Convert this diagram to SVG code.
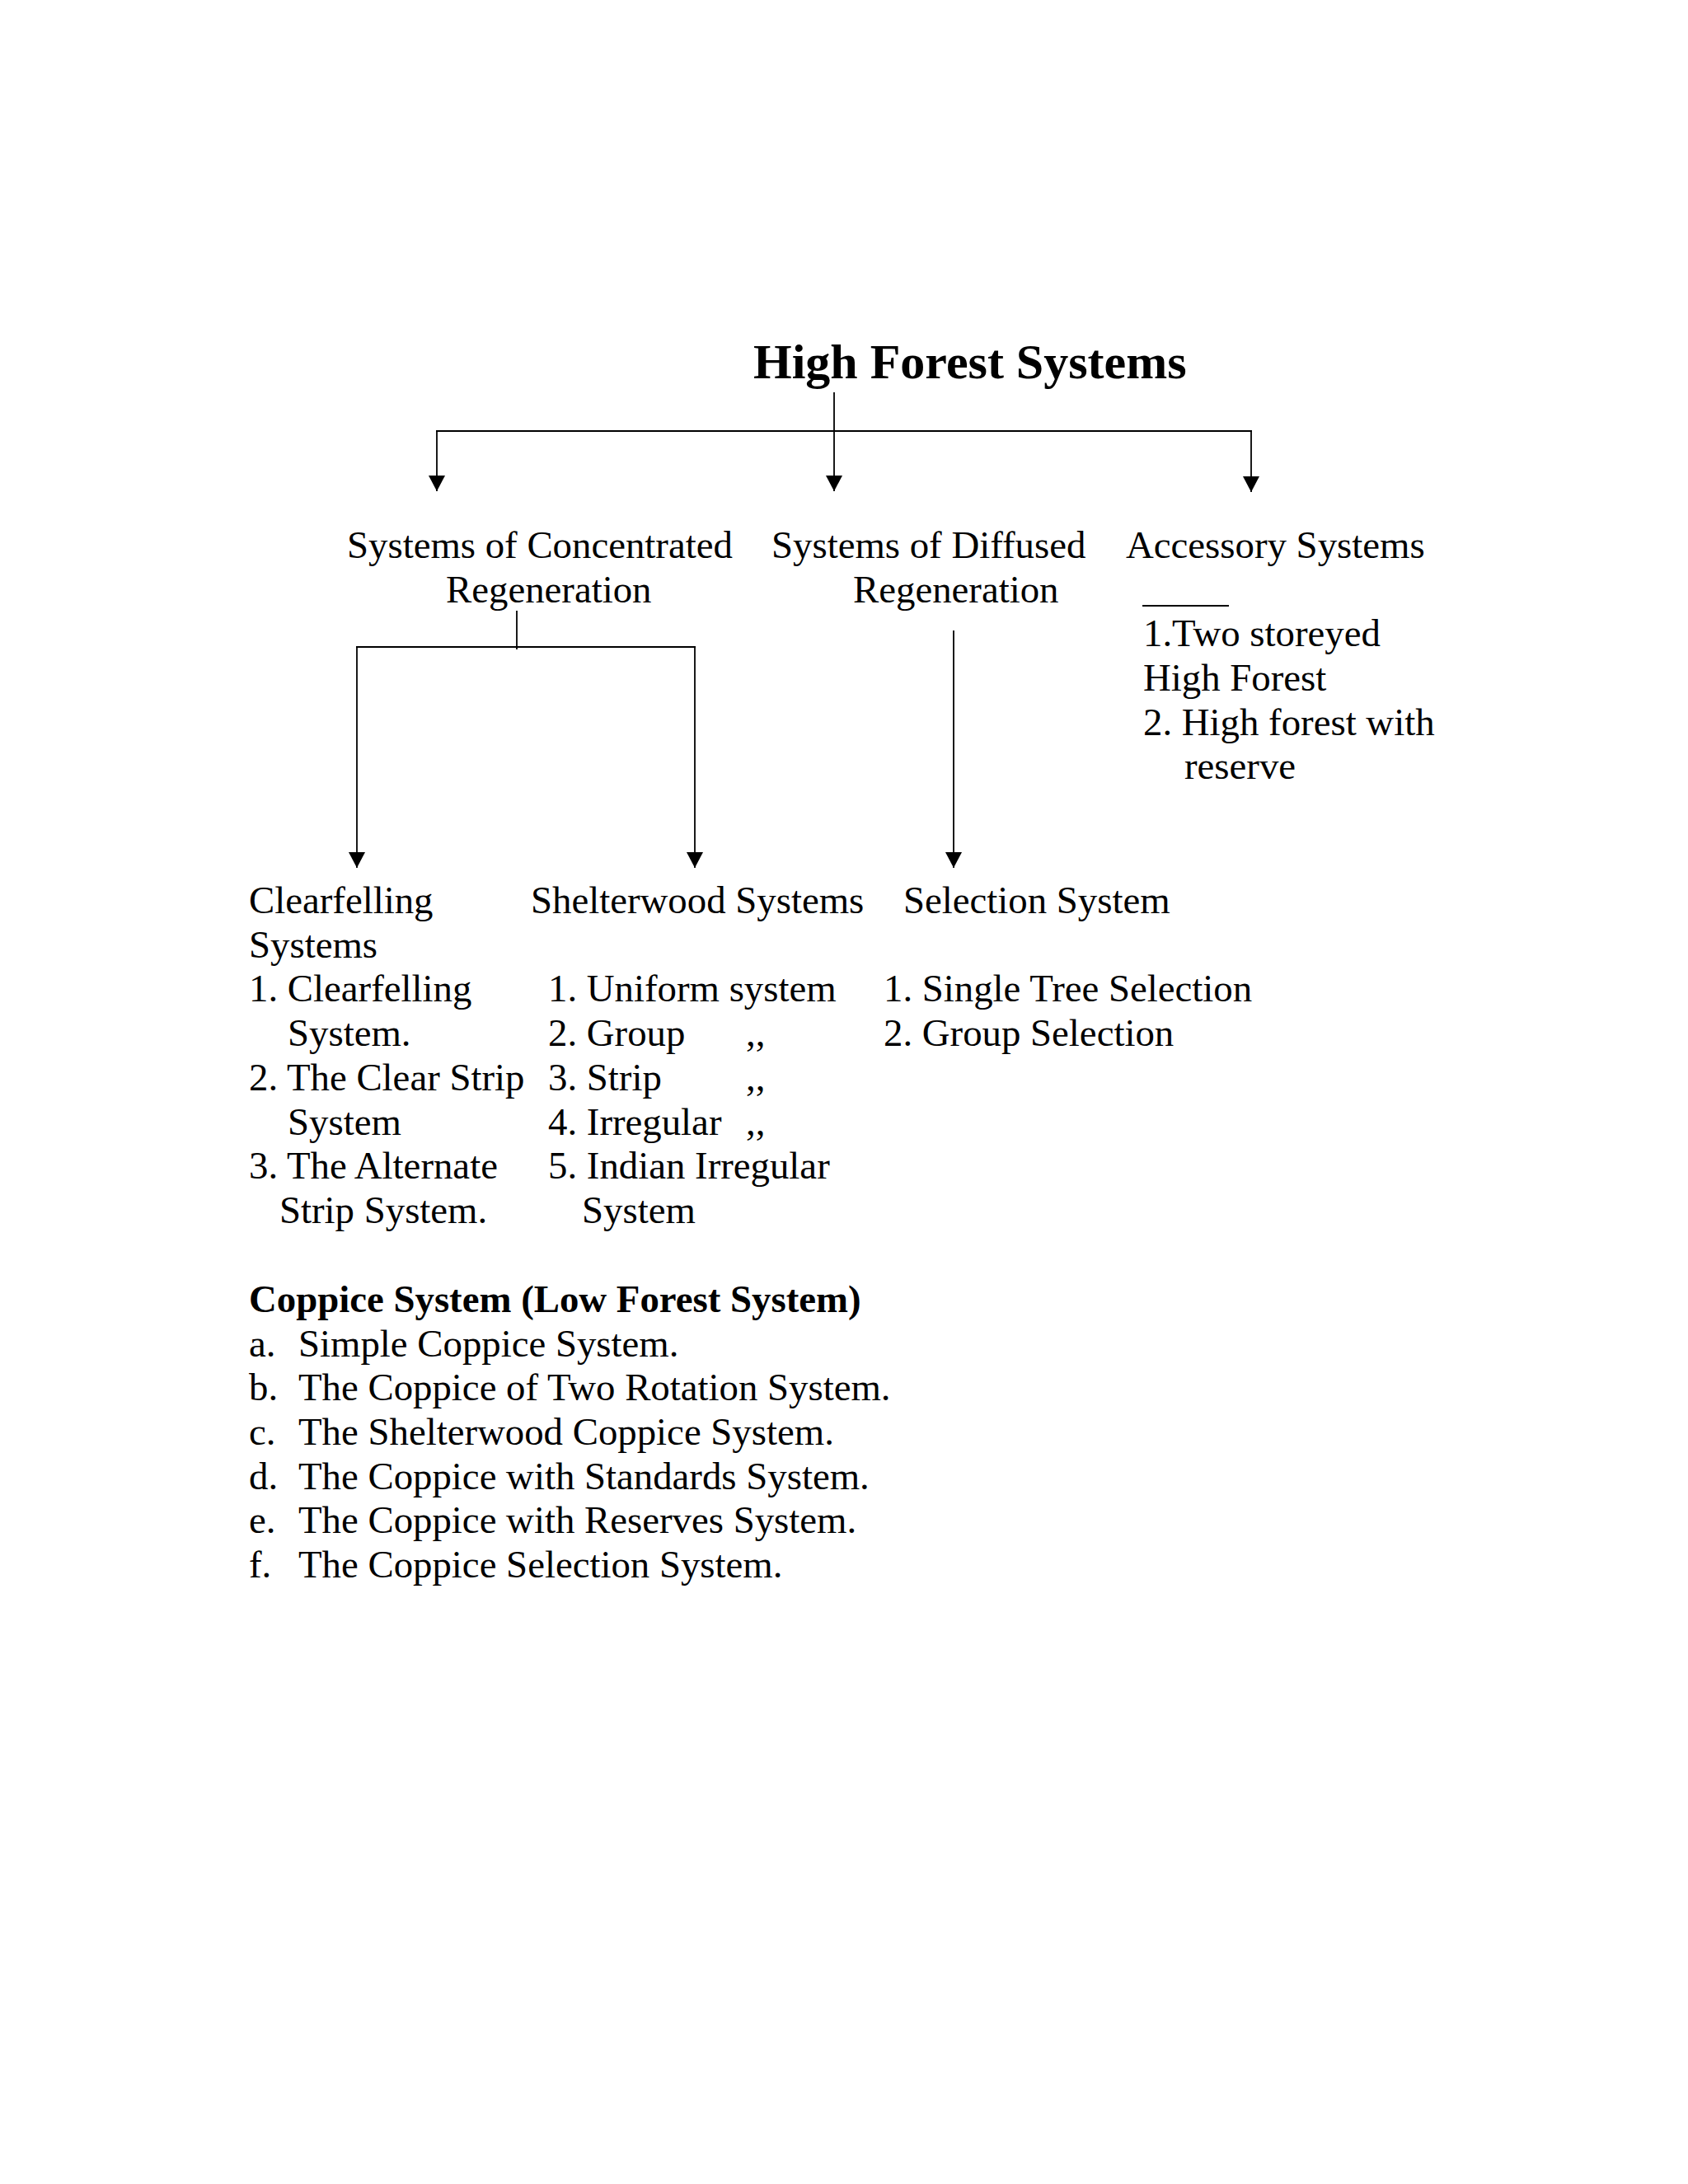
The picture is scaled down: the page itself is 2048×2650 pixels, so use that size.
<svg xmlns="http://www.w3.org/2000/svg" width="2048" height="2650" viewBox="0 0 2048 2650">
<style>
text { font-family: "Liberation Serif", "Times New Roman", serif; font-size: 46.8px; fill: #000; }
.title { font-size: 60px; font-weight: bold; }
.bold { font-weight: bold; }
.h { stroke: #000; stroke-width: 2.2; fill: none; }
.v { stroke: #000; stroke-width: 1.8; fill: none; }
</style>
<defs>
<marker id="arr" viewBox="0 0 19 20" refX="19" refY="10" markerWidth="19" markerHeight="20" markerUnits="userSpaceOnUse" orient="auto">
<path d="M0,0 L19,10 L0,20 Z" fill="#000"/>
</marker>
</defs>
<rect width="2048" height="2650" fill="#fff"/>
<g id="connectors">
<line class="v" x1="1012" y1="476" x2="1012" y2="596" marker-end="url(#arr)"/>
<line class="h" x1="529" y1="523" x2="1519" y2="523"/>
<line class="v" x1="530" y1="523" x2="530" y2="596" marker-end="url(#arr)"/>
<line class="v" x1="1518" y1="523" x2="1518" y2="597" marker-end="url(#arr)"/>
<line class="v" x1="627" y1="741" x2="627" y2="788"/>
<line class="h" x1="432" y1="785" x2="844" y2="785"/>
<line class="v" x1="433" y1="785" x2="433" y2="1053" marker-end="url(#arr)"/>
<line class="v" x1="843" y1="785" x2="843" y2="1053" marker-end="url(#arr)"/>
<line class="v" x1="1157" y1="765" x2="1157" y2="1053" marker-end="url(#arr)"/>
</g>
<g id="high-forest">
<text class="title" x="914" y="459">High Forest Systems</text>
</g>
<g id="concentrated">
<text x="421" y="677">Systems of Concentrated</text>
<text x="541" y="731">Regeneration</text>
</g>
<g id="diffused">
<text x="936" y="677">Systems of Diffused</text>
<text x="1035" y="731">Regeneration</text>
</g>
<g id="accessory">
<text x="1366" y="677">Accessory Systems</text>
<line class="h" x1="1386" y1="735" x2="1491" y2="735"/>
<text x="1387" y="784">1.Two storeyed</text>
<text x="1387" y="838">High Forest</text>
<text x="1387" y="892">2. High forest with</text>
<text x="1437" y="945">reserve</text>
</g>
<g id="clearfelling">
<text x="302" y="1108">Clearfelling</text>
<text x="302" y="1162">Systems</text>
<text x="302" y="1215">1. Clearfelling</text>
<text x="349" y="1269">System.</text>
<text x="302" y="1323">2. The Clear Strip</text>
<text x="349" y="1377">System</text>
<text x="302" y="1430">3. The Alternate</text>
<text x="339" y="1484">Strip System.</text>
</g>
<g id="shelterwood">
<text x="644" y="1108">Shelterwood Systems</text>
<text x="665" y="1215">1. Uniform system</text>
<text x="665" y="1269">2. Group</text>
<text x="905" y="1269">,,</text>
<text x="665" y="1323">3. Strip</text>
<text x="905" y="1323">,,</text>
<text x="665" y="1377">4. Irregular</text>
<text x="905" y="1377">,,</text>
<text x="665" y="1430">5. Indian Irregular</text>
<text x="706" y="1484">System</text>
</g>
<g id="selection">
<text x="1096" y="1108">Selection System</text>
<text x="1072" y="1215">1. Single Tree Selection</text>
<text x="1072" y="1269">2. Group Selection</text>
</g>
<g id="coppice">
<text class="bold" x="302" y="1592">Coppice System (Low Forest System)</text>
<text x="302" y="1646">a.</text><text x="362" y="1646">Simple Coppice System.</text>
<text x="302" y="1699">b.</text><text x="362" y="1699">The Coppice of Two Rotation System.</text>
<text x="302" y="1753">c.</text><text x="362" y="1753">The Shelterwood Coppice System.</text>
<text x="302" y="1807">d.</text><text x="362" y="1807">The Coppice with Standards System.</text>
<text x="302" y="1860">e.</text><text x="362" y="1860">The Coppice with Reserves System.</text>
<text x="302" y="1914">f.</text><text x="362" y="1914">The Coppice Selection System.</text>
</g>
</svg>
